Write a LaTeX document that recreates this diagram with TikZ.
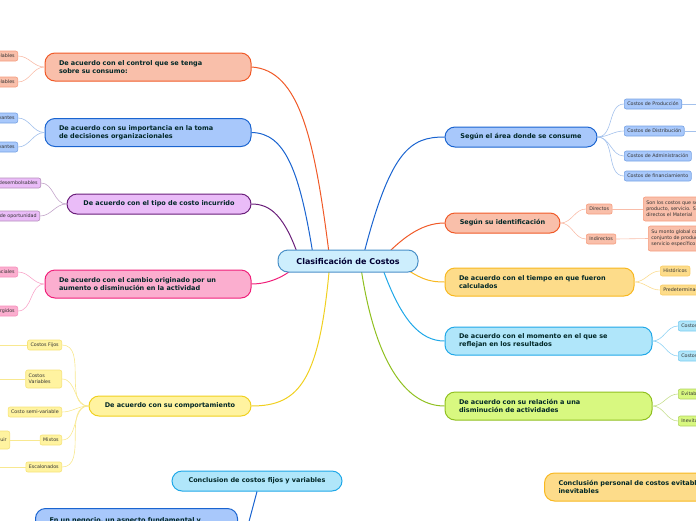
\documentclass[tikz,border=0pt]{standalone}
\usepackage{fontspec}
\setmainfont{DejaVu Sans}
\usetikzlibrary{backgrounds}
\begin{document}
\begin{tikzpicture}[x=1pt,y=-1pt,
 mainb/.style={rounded corners=10pt,line width=1pt,align=left,font=\fontsize{6.5}{8}\selectfont\bfseries,text=black!70!teal,inner xsep=14pt,inner ysep=0pt},
 leaf/.style={rounded corners=2pt,line width=0.6pt,align=left,font=\fontsize{4.8}{6}\selectfont,text=black!80,inner xsep=3pt,inner ysep=0pt,minimum height=10pt},
 con/.style={line width=1pt},
 lc/.style={line width=0.6pt}]
\useasboundingbox (0,0) rectangle (696,520);
\clip (0,0) rectangle (696,520);
\definecolor{orF}{HTML}{F9BFAA}\definecolor{orD}{HTML}{F05A28}
\definecolor{blF}{HTML}{A8C8FB}\definecolor{blD}{HTML}{1A64D0}
\definecolor{puF}{HTML}{EABCF8}\definecolor{puD}{HTML}{6A1F7A}
\definecolor{piF}{HTML}{FBAECF}\definecolor{piD}{HTML}{F0207A}
\definecolor{yeF}{HTML}{FFF3A0}\definecolor{yeD}{HTML}{F0D020}
\definecolor{cyF}{HTML}{B0E6FA}\definecolor{cyD}{HTML}{20A8E8}
\definecolor{goF}{HTML}{FDDC8A}\definecolor{goD}{HTML}{F8B820}
\definecolor{grF}{HTML}{D8F880}\definecolor{grD}{HTML}{90C020}
\definecolor{ceF}{HTML}{CDEEFD}\definecolor{ceD}{HTML}{4A90C8}

% center
\node[mainb,fill=ceF,draw=ceD,minimum width=140pt,minimum height=22pt,align=center,font=\fontsize{8}{9}\selectfont\bfseries,text=black!80!blue] (c) at (348,261) {Clasificación de Costos};

% left main
\node[mainb,fill=orF,draw=orD,text width=178pt,minimum height=28pt] (l1) at (148,67) {De acuerdo con el control que se tenga\\sobre su consumo:};
\node[mainb,fill=blF,draw=blD,text width=178pt,minimum height=28pt] (l2) at (148,132.5) {De acuerdo con su importancia en la toma\\de decisiones organizacionales};
\node[mainb,fill=puF,draw=puD,minimum width=184pt,minimum height=20pt,align=center] (l3) at (159,204) {De acuerdo con el tipo de costo incurrido};
\node[mainb,fill=piF,draw=piD,text width=178pt,minimum height=28pt] (l4) at (148,284) {De acuerdo con el cambio originado por un\\aumento o disminución en la actividad};
\node[mainb,fill=yeF,draw=yeD,minimum width=162pt,minimum height=20pt,align=center] (l5) at (170,406) {De acuerdo con su comportamiento};
\node[mainb,fill=cyF,draw=cyD,minimum width=170pt,minimum height=20pt,align=center] (cf) at (257,481) {Conclusion de costos fijos y variables};
\node[mainb,fill=blF,draw=blD,text width=174pt,minimum height=40pt,anchor=north west] (bn) at (35,508) {En un negocio, un aspecto fundamental y\\\mbox{}\\\mbox{}};

% right main
\node[mainb,fill=blF,draw=blD,minimum width=152pt,minimum height=20pt,align=center] (r1) at (521,137) {Según el área donde se consume};
\node[mainb,fill=orF,draw=orD,minimum width=115pt,minimum height=20pt,align=center] (r2) at (502.5,223) {Según su identificación};
\node[mainb,fill=goF,draw=goD,text width=161pt,minimum height=28pt] (r3) at (539.5,282) {De acuerdo con el tiempo en que fueron\\calculados};
\node[mainb,fill=cyF,draw=cyD,text width=179pt,minimum height=28pt] (r4) at (548.5,341) {De acuerdo con el momento en el que se\\reflejan en los resultados};
\node[mainb,fill=grF,draw=grD,text width=179pt,minimum height=28pt] (r5) at (548.5,406) {De acuerdo con su relación a una\\disminución de actividades};
\node[mainb,fill=goF,draw=goD,text width=180pt,minimum height=28pt,anchor=west] (cp) at (544,487) {Conclusión personal de costos evitables e\\inevitables};

% center connectors (behind)
\begin{pgfonlayer}{background}
\coordinate (s1) at (330,261);\coordinate (s2) at (314,261);\coordinate (s3) at (300,261);
\coordinate (t1) at (362,261);\coordinate (t2) at (380,261);\coordinate (t3) at (395,261);
\coordinate (t4) at (380,261);\coordinate (t5) at (360,261);
\draw[con,orD] (s1) .. controls (315,140) and (300,70) .. (l1.east);
\draw[con,blD] (s2) .. controls (300,170) and (285,133) .. (l2.east);
\draw[con,puD] (s3) .. controls (285,215) and (270,204) .. (l3.east);
\draw[con,piD] (s3) .. controls (290,275) and (270,284) .. (l4.east);
\draw[con,yeD] (s1) .. controls (320,380) and (300,406) .. (l5.east);
\draw[con,blD] (t1) .. controls (390,150) and (410,137) .. (r1.west);
\draw[con,orD] (t2) .. controls (400,240) and (420,223) .. (r2.west);
\draw[con,goD] (t3) .. controls (420,280) and (430,282) .. (r3.west);
\draw[con,cyD] (t4) .. controls (400,320) and (420,341) .. (r4.west);
\draw[con,grD] (t5) .. controls (375,370) and (410,406) .. (r5.west);
\end{pgfonlayer}
\draw[con,blD] (cf.south) -- ++(-8,30);

% left leaves
\tikzset{lo/.style={leaf,fill=orF,draw=orD!60,anchor=east},
 lb/.style={leaf,fill=blF,draw=blD!60,anchor=east},
 lp/.style={leaf,fill=puF,draw=puD!50,anchor=east},
 lpi/.style={leaf,fill=piF,draw=piD!50,anchor=east},
 ly/.style={leaf,fill=yeF,draw=yeD!60,anchor=east}}
\node[lo] (a1) at (18,56) {Costos controlables};
\node[lo] (a2) at (18,82) {Costos no controlables};
\draw[lc,orD!40] (l1.west) to[out=180,in=0] (a1.east);
\draw[lc,orD!40] (l1.west) to[out=180,in=0] (a2.east);
\node[lb] (b1) at (18,118) {Costos relevantes};
\node[lb] (b2) at (18,147) {Costos irrelevantes};
\draw[lc,blD!40] (l2.west) to[out=180,in=0] (b1.east);
\draw[lc,blD!40] (l2.west) to[out=180,in=0] (b2.east);
\node[lp] (p1) at (41,183) {Costos desembolsables};
\node[lp] (p2) at (40,216) {Costo de oportunidad};
\draw[lc,puD!40] (l3.west) to[out=180,in=0] (p1.east);
\draw[lc,puD!40] (l3.west) to[out=180,in=0] (p2.east);
\node[lpi] (q1) at (18,272) {Costos diferenciales};
\node[lpi] (q2) at (18,311) {Costos sumergidos};
\draw[lc,piD!40] (l4.west) to[out=180,in=0] (q1.east);
\draw[lc,piD!40] (l4.west) to[out=180,in=0] (q2.east);
\node[ly] (y1) at (62,345) {Costos Fijos};
\node[ly,minimum height=18pt,text width=30pt] (y2) at (62,379) {Costos\\Variables};
\node[ly] (y3) at (62,412) {Costo semi-variable};
\node[ly] (y4) at (62,440) {Mixtos};
\node[ly,minimum height=18pt] (y6) at (10,440) {Costo a distribuir};
\node[ly] (y5) at (62,467) {Escalonados};
\coordinate (e1) at (0,345);\coordinate (e2) at (0,379);\coordinate (e5) at (0,467);
\foreach \n in {y1,y2,y3,y4,y5} \draw[lc,yeD!50] (l5.west) to[out=180,in=0] (\n.east);
\draw[lc,yeD!50] (y1.west) -- (e1);
\draw[lc,yeD!50] (y2.west) -- (e2);
\draw[lc,yeD!50] (y5.west) -- (e5);
\draw[lc,yeD!50] (y4.west) -- (y6.east);

% right leaves
\tikzset{rb/.style={leaf,fill=blF,draw=blD!60,anchor=west},
 ro/.style={leaf,fill=orF,draw=orD!60,anchor=west},
 rg/.style={leaf,fill=goF,draw=goD!70,anchor=west},
 rc/.style={leaf,fill=cyF,draw=cyD!60,anchor=west},
 rgr/.style={leaf,fill=grF,draw=grD!70,anchor=west}}
\node[rb] (d1) at (624,104) {Costos de Producción};
\node[rb] (d2) at (624,131) {Costos de Distribución};
\node[rb] (d3) at (624,156) {Costos de Administración};
\node[rb] (d4) at (624,176) {Costos de financiamiento};
\foreach \n in {d1,d2,d3,d4} \draw[lc,blD!40] (r1.east) to[out=0,in=180] (\n.west);
\coordinate (f1) at (700,104);\coordinate (f2) at (700,131);
\draw[lc,blD!40] (d1.east) -- (f1);\draw[lc,blD!40] (d2.east) -- (f2);
\node[ro] (i1) at (586,209) {Directos};
\node[ro] (i2) at (586,239) {Indirectos};
\node[ro,minimum height=24pt] (i3) at (643,209) {Son los costos que se identifican con el\\producto, servicio. Son costos\\directos el Material};
\node[ro,minimum height=25pt] (i4) at (648,238.5) {Su monto global corresponde a un\\conjunto de productos o\\servicio específico};
\draw[lc,orD!40] (r2.east) to[out=0,in=180] (i1.west);
\draw[lc,orD!40] (r2.east) to[out=0,in=180] (i2.west);
\draw[lc,orD!40] (i1.east) -- (i3.west);
\draw[lc,orD!40] (i2.east) -- (i4.west);
\node[rg] (h1) at (660,271) {Históricos};
\node[rg] (h2) at (660,290) {Predeterminados};
\draw[lc,goD!50] (r3.east) to[out=0,in=180] (h1.west);
\draw[lc,goD!50] (r3.east) to[out=0,in=180] (h2.west);
\node[rc] (m1) at (678,326) {Costos del periodo};
\node[rc] (m2) at (678,356) {Costos del producto};
\draw[lc,cyD!50] (r4.east) to[out=0,in=180] (m1.west);
\draw[lc,cyD!50] (r4.east) to[out=0,in=180] (m2.west);
\node[rgr] (v1) at (678,394) {Evitables};
\node[rgr] (v2) at (678,421) {Inevitables};
\draw[lc,grD!50] (r5.east) to[out=0,in=180] (v1.west);
\draw[lc,grD!50] (r5.east) to[out=0,in=180] (v2.west);
\end{tikzpicture}
\end{document}
